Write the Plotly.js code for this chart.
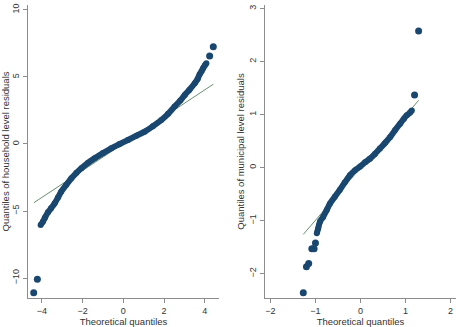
<!DOCTYPE html>
<html><head><meta charset="utf-8">
<script src="https://cdn.plot.ly/plotly-3.0.1.min.js"></script>
<style>html,body{margin:0;padding:0;background:#fff}#plot{width:474px;height:327px}</style>
</head><body><div id="plot"></div>
<script>
// Left panel: household level residuals (dense band of quantiles)
const hhBandX = [-4.06,-3.95,-3.85,-3.70,-3.55,-3.37,-3.21,-3.05,-2.80,-2.55,-2.30,-2.06,-1.75,-1.41,-1.00,-0.59,-0.20,0.23,0.65,1.05,1.45,1.87,2.20,2.52,2.80,3.02,3.25,3.51,3.65,3.75,3.85,3.92,4.00,4.08];
const hhBandY = [-6.04,-5.80,-5.50,-5.10,-4.80,-4.43,-4.00,-3.56,-3.05,-2.56,-2.15,-1.81,-1.42,-1.07,-0.68,-0.32,-0.02,0.30,0.62,0.92,1.32,1.79,2.25,2.79,3.25,3.66,4.05,4.53,4.85,5.20,5.45,5.65,5.85,6.02];
const hhTailX = [-4.40,-4.22,4.24,4.42];
const hhTailY = [-11.1,-10.1,6.57,7.26];
const hhRefX = [-4.39,4.42];
const hhRefY = [-4.38,4.46];
// Right panel: municipal level residuals
const munBandX = [-0.97,-0.94,-0.90,-0.83,-0.75,-0.68,-0.57,-0.46,-0.35,-0.23,-0.12,-0.01,0.10,0.21,0.32,0.43,0.55,0.66,0.77,0.88,0.96,1.03,1.10,1.14];
const munBandY = [-1.24,-1.15,-1.02,-0.93,-0.80,-0.68,-0.55,-0.42,-0.28,-0.14,-0.05,0.02,0.10,0.17,0.26,0.36,0.47,0.58,0.71,0.83,0.92,0.99,1.04,1.08];
const munTailX = [-1.27,-1.20,-1.15,-1.08,-1.03,-1.00,1.20,1.29];
const munTailY = [-2.36,-1.87,-1.81,-1.53,-1.53,-1.42,1.37,2.58];
const munRefX = [-1.27,1.29];
const munRefY = [-1.26,1.27];
// Tick values
const hhXTicks = [-4,-2,0,2,4];
const hhYTicks = [-10,-5,0,5,10];
const munXTicks = [-2,-1,0,1,2];
const munYTicks = [-2,-1,0,1,2,3];

const navy = '#1a476f';
const refCol = '#6a8f72';
const band = (x,y,xa,ya)=>({x,y,xaxis:xa,yaxis:ya,type:'scatter',mode:'lines+markers',
  line:{color:navy,width:6,shape:'spline'},marker:{color:navy,size:6},hoverinfo:'skip'});
const dots = (x,y,xa,ya)=>({x,y,xaxis:xa,yaxis:ya,type:'scatter',mode:'markers',
  marker:{color:navy,size:7},hoverinfo:'skip'});
const ref = (x,y,xa,ya)=>({x,y,xaxis:xa,yaxis:ya,type:'scatter',mode:'lines',
  line:{color:refCol,width:1},hoverinfo:'skip'});

const data = [
  ref(hhRefX,hhRefY,'x','y'), band(hhBandX,hhBandY,'x','y'), dots(hhTailX,hhTailY,'x','y'),
  ref(munRefX,munRefY,'x2','y2'), band(munBandX,munBandY,'x2','y2'), dots(munTailX,munTailY,'x2','y2')
];

const fontF = 'Liberation Sans, Arial, sans-serif';
const titleFont = {family:fontF,size:9.5,color:'#333'};
const axBase = {showgrid:false,zeroline:false,showline:true,linecolor:'#8c8c8c',linewidth:1,
  ticks:'outside',ticklen:4,tickcolor:'#8c8c8c',tickfont:{family:fontF,size:9,color:'#333'},automargin:false};
const yDom = [29/327, 322/327];
const layout = {
  width:474,height:327,margin:{l:0,r:0,t:0,b:0},paper_bgcolor:'#fff',plot_bgcolor:'#fff',showlegend:false,
  xaxis:Object.assign({},axBase,{domain:[28/474,219/474],range:[-4.68,4.70],tickvals:hhXTicks,anchor:'y',
    title:{text:'Theoretical quantiles',font:titleFont,standoff:1}}),
  yaxis:Object.assign({},axBase,{domain:yDom,range:[-11.49,10.37],tickvals:hhYTicks,tickangle:-90,anchor:'x',
    title:{text:'Quantiles of household level residuals',font:titleFont,standoff:2}}),
  xaxis2:Object.assign({},axBase,{domain:[265/474,456/474],range:[-2.12,2.12],tickvals:munXTicks,anchor:'y2',
    title:{text:'Theoretical quantiles',font:titleFont,standoff:1}}),
  yaxis2:Object.assign({},axBase,{domain:yDom,range:[-2.46,3.07],tickvals:munYTicks,tickangle:-90,anchor:'x2',
    title:{text:'Quantiles of municipal level residuals',font:titleFont,standoff:2}})
};
Plotly.newPlot('plot',data,layout,{staticPlot:true,displayModeBar:false});
</script></body></html>
